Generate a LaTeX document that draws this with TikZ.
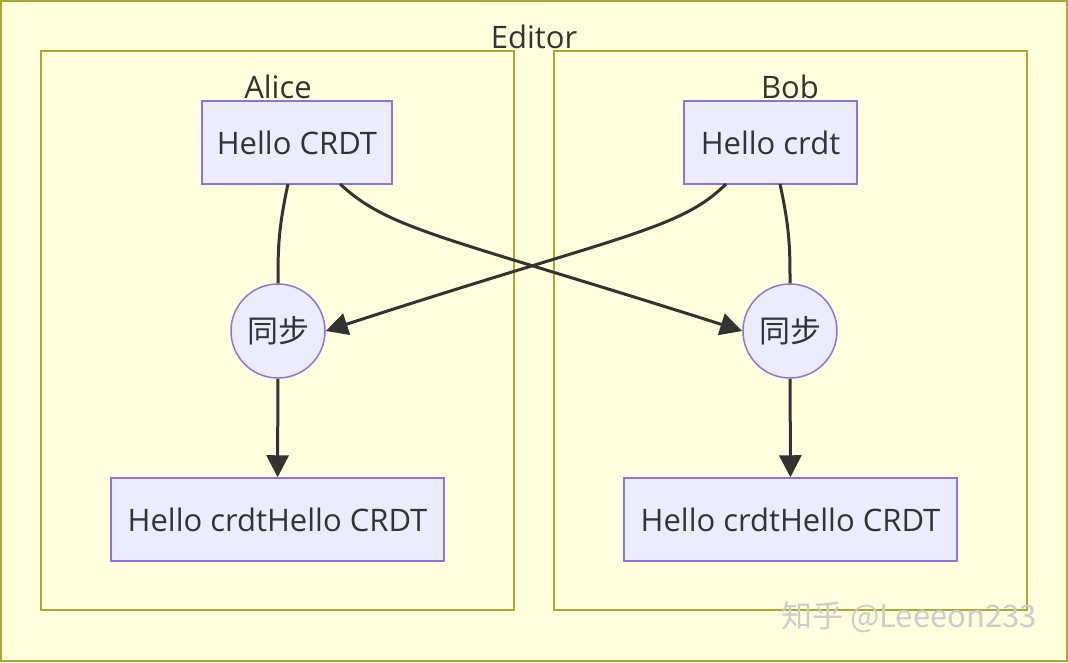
\documentclass[tikz,border=0pt]{standalone}
\usepackage{fontspec}
\setmainfont{Open Sans}
\newfontfamily\cjk{Noto Sans CJK SC}
\usetikzlibrary{arrows.meta}
\definecolor{bgc}{HTML}{FFFFDE}
\definecolor{bdc}{HTML}{AAAA33}
\definecolor{nfc}{HTML}{ECECFF}
\definecolor{ndc}{HTML}{9370DB}
\definecolor{edc}{HTML}{333333}
\begin{document}
\begin{tikzpicture}[x=1pt,y=-1pt,
  lab/.style={font=\fontsize{31}{36}\selectfont,text=edc},
  box/.style={draw=ndc,fill=nfc,line width=1.5pt,lab,inner sep=0pt},
  grp/.style={draw=bdc,fill=bgc,line width=1.5pt},
  edge/.style={draw=edc,line width=3pt,-{Triangle[length=22pt,width=22pt]}}]
\useasboundingbox (0,0) rectangle (1068,662);
\draw[grp] (1,1) rectangle (1067,661);
\node[lab] (ed) at (534,37) {Editor};
\draw[grp] (41,51) rectangle (514,610);
\draw[grp] (554,51) rectangle (1027,610);
\node[lab] (al) at (278,87) {Alice};
\node[lab] (bo) at (790,87) {Bob};
\node[box,minimum width=190pt,minimum height=83pt] (a) at (297,142.5) {Hello CRDT};
\node[box,minimum width=173pt,minimum height=83pt] (b) at (770.5,142.5) {Hello crdt};
\node[box,circle,minimum size=94pt] (sl) at (278,331) {\cjk 同步};
\node[box,circle,minimum size=94pt] (sr) at (790,331) {\cjk 同步};
\node[box,minimum width=333pt,minimum height=83pt] (dl) at (277.5,519.5) {Hello crdtHello CRDT};
\node[box,minimum width=333pt,minimum height=83pt] (dr) at (790.5,519.5) {Hello crdtHello CRDT};
\coordinate (a1) at (288,184);
\coordinate (a2) at (340,184);
\coordinate (b1) at (780,184);
\coordinate (b2) at (726,184);
\draw[edge,-] (a1) .. controls (278,230) and (278,250) .. (sl.north);
\draw[edge,-] (b1) .. controls (790,230) and (790,250) .. (sr.north);
\draw[edge] (a2) .. controls (390,230) and (440,235) .. (sr.west);
\draw[edge] (b2) .. controls (680,230) and (620,235) .. (sl.east);
\draw[edge] (sl) -- (dl);
\draw[edge] (sr) -- (dr);
\node[font=\cjk\fontsize{31}{36}\selectfont,text=white!60!gray] (wm) at (909,617) {知乎 @Leeeon233};
\end{tikzpicture}
\end{document}
